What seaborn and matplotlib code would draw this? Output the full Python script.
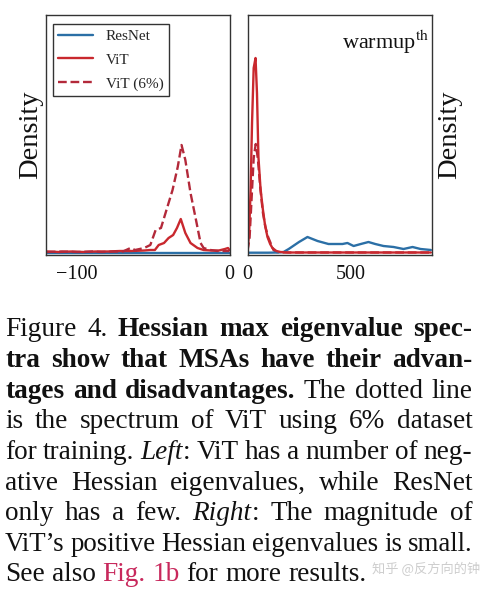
import matplotlib
matplotlib.use('Agg')
import matplotlib.pyplot as plt
import seaborn as sns
import pandas as pd

# ---------------- data (relative density units) -------------
# left panel: negative eigenvalues
left_resnet_x = [-120, -100, -80, -60, -40, -20, 0]
left_resnet_y = [0.0004, 0.0004, 0.0004, 0.0004, 0.0004, 0.0004, 0.0004]

left_vit_x = [-120, -112, -104, -96, -88, -80, -72, -64, -56, -52, -49, -46.5, -43, -40,
              -37, -34.5, -32, -29, -25.6, -21, -17, -12, -7, -3, -1, 0]
left_vit_y = [0.0015, 0.001, 0.0015, 0.001, 0.0015, 0.0015, 0.002, 0.002, 0.0025, 0.003,
              0.003, 0.008, 0.010, 0.015, 0.018, 0.025, 0.034, 0.020, 0.010, 0.005,
              0.003, 0.0025, 0.0025, 0.004, 0.005, 0.003]

left_vit6_x = [-120, -110, -100, -90, -84, -75, -70, -65, -62, -56, -52, -48.5, -45, -42,
               -37.4, -34, -31.5, -29, -25.6, -22, -19, -17, -12.5, -8, -4, 0]
left_vit6_y = [0.001, 0.0015, 0.001, 0.0015, 0.001, 0.0015, 0.0015, 0.005, 0.003, 0.005,
               0.008, 0.023, 0.025, 0.040, 0.063, 0.086, 0.108, 0.093, 0.060, 0.033,
               0.010, 0.005, 0.003, 0.002, 0.002, 0.002]

# right panel: positive eigenvalues
right_resnet_x = [0, 100, 150, 175, 200, 250, 291, 340, 393, 430, 461, 485, 515, 550,
                  587, 620, 660, 709, 757, 801, 840, 890]
right_resnet_y = [0.0003, 0.0003, 0.0005, 0.001, 0.004, 0.011, 0.016, 0.012, 0.009,
                  0.009, 0.009, 0.010, 0.007, 0.009, 0.011, 0.009, 0.007, 0.006, 0.004,
                  0.006, 0.004, 0.003]

right_vit_x = [0, 8, 15, 22, 30, 39, 46, 53, 63, 73, 85, 97, 110, 121, 140, 160, 200,
               400, 600, 890]
right_vit_y = [0.002, 0.020, 0.063, 0.130, 0.185, 0.195, 0.160, 0.096, 0.065, 0.046,
               0.028, 0.016, 0.009, 0.005, 0.002, 0.001, 0.0005, 0.0005, 0.0005, 0.0005]

right_vit6_x = [0, 10, 20, 30, 40, 50, 63, 75, 87, 100, 112, 126, 140, 160, 400, 600, 890]
right_vit6_y = [0.002, 0.015, 0.055, 0.095, 0.109, 0.095, 0.063, 0.040, 0.026, 0.016,
                0.010, 0.003, 0.001, 0.0005, 0.0005, 0.0005, 0.0005]

series_labels = ['ResNet', 'ViT', 'ViT (6%)']
left_ticks = [-100, 0]
right_ticks = [0, 500]

# ---------------- style -------------
sns.set_style('white')
plt.rcParams['font.family'] = ['Liberation Serif', 'DejaVu Serif']
plt.rcParams['mathtext.fontset'] = 'stix'
plt.rcParams['axes.unicode_minus'] = True

C_BLUE = '#2b6fa6'
C_RED = '#c9282e'
C_RED6 = '#b3293a'
LW = 1.7
EDGE = '#333333'

W, H = 483, 592
fig = plt.figure(figsize=(W / 100, H / 100), dpi=100)
ax1 = fig.add_axes([46 / W, 1 - 254.5 / H, (229.5 - 46) / W, (254.5 - 15) / H])
ax2 = fig.add_axes([247.5 / W, 1 - 254.5 / H, (431.5 - 247.5) / W, (254.5 - 15) / H])

def draw(ax, x, y, color, ls, label):
    df = pd.DataFrame({'x': x, 'y': y})
    sns.lineplot(data=df, x='x', y='y', ax=ax, color=color, linestyle=ls,
                 linewidth=LW, label=label, legend=False)

draw(ax1, left_resnet_x, left_resnet_y, C_BLUE, '-', series_labels[0])
draw(ax1, left_vit_x, left_vit_y, C_RED, '-', series_labels[1])
draw(ax1, left_vit6_x, left_vit6_y, C_RED6, '--', series_labels[2])

draw(ax2, right_vit6_x, right_vit6_y, C_RED6, '--', series_labels[2])
draw(ax2, right_resnet_x, right_resnet_y, C_BLUE, '-', series_labels[0])
draw(ax2, right_vit_x, right_vit_y, C_RED, '-', series_labels[1])

for ax in (ax1, ax2):
    ax.set_ylim(-0.0015, 0.238)
    ax.set_yticks([])
    ax.set_xlabel('')
    for s in ax.spines.values():
        s.set_color(EDGE)
        s.set_linewidth(1.0)
        s.set_visible(True)
    ax.tick_params(axis='x', direction='out', length=3, width=0.8, color=EDGE,
                   labelsize=14.5, pad=4.5, labelcolor='#111111')

ax1.set_xlim(-120.5, 0)
ax1.set_xticks(left_ticks)
ax2.set_xlim(0, 893)
ax2.set_xticks(right_ticks)

ax1.set_ylabel('Density', fontsize=20.5, labelpad=2, color='#111111')
ax2.set_ylabel('Density', fontsize=20.5, labelpad=4, color='#111111')
ax2.yaxis.set_label_position('right')

h, l = ax1.get_legend_handles_labels()
order = [l.index(s) for s in series_labels]
leg = ax1.legend([h[i] for i in order], [l[i] for i in order], loc='upper left',
                 bbox_to_anchor=(0.038, 0.963), fontsize=11, frameon=True,
                 fancybox=False, edgecolor=EDGE, framealpha=1, handlelength=2.3,
                 handletextpad=0.8, labelspacing=0.66, borderpad=0.35,
                 borderaxespad=0)
leg.get_frame().set_linewidth(1.0)

ax2.text(0.985, 0.945, r'warmup$^{\mathrm{th}}$', transform=ax2.transAxes,
         ha='right', va='top', fontsize=16, color='#111111')

# ---------------- caption (justified) -------------
cap_lines = [
    [('Figure 4. ', 'r'), ('Hessian max eigenvalue spec-', 'b')],
    [('tra show that MSAs have their advan-', 'b')],
    [('tages and disadvantages. ', 'b'), ('The dotted line', 'r')],
    [('is the spectrum of ViT using 6% dataset', 'r')],
    [('for training. ', 'r'), ('Left', 'i'), (': ViT has a number of neg-', 'r')],
    [('ative Hessian eigenvalues, while ResNet', 'r')],
    [('only has a few. ', 'r'), ('Right', 'i'), (': The magnitude of', 'r')],
    [('ViT\u2019s positive Hessian eigenvalues is small.', 'r')],
    [('See also ', 'r'), ('Fig. 1b', 'p'), (' for more results.', 'r')],
]
justify = [True] * 8 + [False]
CAP_SIZE = 19.6
styles = {
    'r': dict(fontweight='normal', fontstyle='normal', color='#111111'),
    'b': dict(fontweight='bold', fontstyle='normal', color='#111111'),
    'i': dict(fontweight='normal', fontstyle='italic', color='#111111'),
    'p': dict(fontweight='normal', fontstyle='normal', color='#c8285c'),
}
L_PX, R_PX = 5.0, 472.5
base0, step = 336.5, 30.6

def split_words(segs):
    words, new_word = [], True
    for text, st in segs:
        parts = text.split(' ')
        for k, p in enumerate(parts):
            if k > 0:
                new_word = True
            if p == '':
                continue
            if new_word:
                words.append([(p, st)])
                new_word = False
            else:
                words[-1].append((p, st))
    return words

renderer = fig.canvas.get_renderer()

def space_width(size):
    p1 = fig.text(0, 0, 'a a', fontsize=size)
    p2 = fig.text(0, 0, 'aa', fontsize=size)
    w = p1.get_window_extent(renderer).width - p2.get_window_extent(renderer).width
    p1.remove(); p2.remove()
    return w

for li, segs in enumerate(cap_lines):
    words = split_words(segs)
    y_px = base0 + li * step
    size = CAP_SIZE
    while True:
        objs = []
        for w in words:
            wobjs = []
            for txt, st in w:
                t = fig.text(0, 1 - y_px / H, txt, fontsize=size, va='baseline',
                             ha='left', **styles[st])
                wobjs.append((t, t.get_window_extent(renderer).width))
            objs.append(wobjs)
        wsum = [sum(wd for _, wd in wo) for wo in objs]
        total = sum(wsum)
        sw = space_width(size)
        ngap = max(len(objs) - 1, 1)
        if justify[li] and (R_PX - L_PX - total) / ngap < 0.8 * sw and size > 15:
            for wo in objs:
                for t, _ in wo:
                    t.remove()
            size -= 0.2
            continue
        break
    if justify[li] and len(objs) > 1:
        gap = (R_PX - L_PX - total) / (len(objs) - 1)
    else:
        gap = sw
    x = L_PX
    for wo, ws in zip(objs, wsum):
        xx = x
        for t, wd in wo:
            t.set_x(xx / W)
            xx += wd
        x += ws + gap

# watermark
fig.text(426 / W, 1 - 569 / H, '知乎 @反方向的钟', fontsize=9.5, ha='center', va='center',
         color='#c8c8c8', alpha=0.9,
         family=['Noto Sans CJK SC', 'DejaVu Sans'])

fig.savefig('out.png', dpi=100)
